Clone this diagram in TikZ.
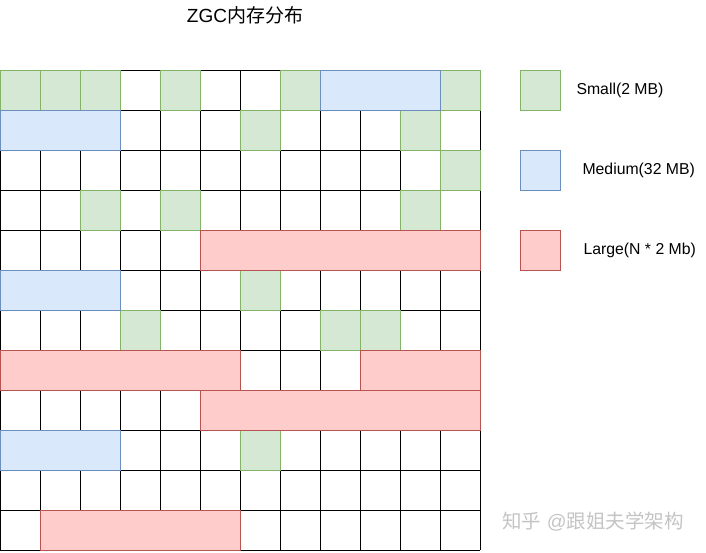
\documentclass[tikz,border=0pt]{standalone}
\usepackage{fontspec}
\setmainfont{Liberation Sans}
\newfontfamily\cjk{Noto Sans CJK SC}
\usetikzlibrary{positioning}
\definecolor{small_fill}{HTML}{D5E8D4}
\definecolor{small_line}{HTML}{82B366}
\definecolor{medium_fill}{HTML}{DAE8FC}
\definecolor{medium_line}{HTML}{6C8EBF}
\definecolor{large_fill}{HTML}{FFCCCC}
\definecolor{large_line}{HTML}{B85450}
\definecolor{mark_grey}{HTML}{C4C4C4}

\begin{document}
\begin{tikzpicture}[x=1pt, y=-1pt,
    small/.style={fill=small_fill, draw=small_line, line width=1pt},
    medium/.style={fill=medium_fill, draw=medium_line, line width=1pt},
    large/.style={fill=large_fill, draw=large_line, line width=1pt},
    key/.style={minimum size=40pt, inner sep=0pt},
    key_text/.style={anchor=west, font=\fontsize{15.8}{18}\selectfont}]
  \useasboundingbox (0,0) rectangle (706,552);
  % title
  \node[font=\fontsize{19}{22}\selectfont] (title) at (245,15) {ZGC{\cjk 内存分布}};
  % empty grid
  \foreach \i in {0,...,12} {
    \draw[line width=1pt] (40*\i,70) -- (40*\i,550);
    \draw[line width=1pt] (0,70+40*\i) -- (480,70+40*\i);
  }
  % regions: column/row/width
  \foreach \c/\r in {0/0, 1/0, 2/0, 4/0, 7/0, 11/0, 6/1, 10/1, 11/2, 2/3, 4/3,
                     10/3, 6/5, 3/6, 8/6, 9/6, 6/9}
    \draw[small] (40*\c,70+40*\r) rectangle ++(40,40);
  \foreach \c/\r/\w in {8/0/3, 0/1/3, 0/5/3, 0/9/3}
    \draw[medium] (40*\c,70+40*\r) rectangle ++(40*\w,40);
  \foreach \c/\r/\w in {5/4/7, 0/7/6, 9/7/3, 5/8/7, 1/11/5}
    \draw[large] (40*\c,70+40*\r) rectangle ++(40*\w,40);
  % legend
  \node[key, small] (key_small) at (540,90) {};
  \node[key, medium] (key_medium) at (540,170) {};
  \node[key, large] (key_large) at (540,250) {};
  \node[key_text] (txt_small) at (573,90) {Small(2 MB)};
  \node[key_text] (txt_medium) at (579,170) {Medium(32 MB)};
  \node[key_text] (txt_large) at (580,250) {Large(N * 2 Mb)};
  % watermark
  \node[text=mark_grey, font=\fontsize{19.5}{22}\selectfont] (mark) at (593,522)
    {{\cjk 知乎} @{\cjk 跟姐夫学架构}};
\end{tikzpicture}
\end{document}
